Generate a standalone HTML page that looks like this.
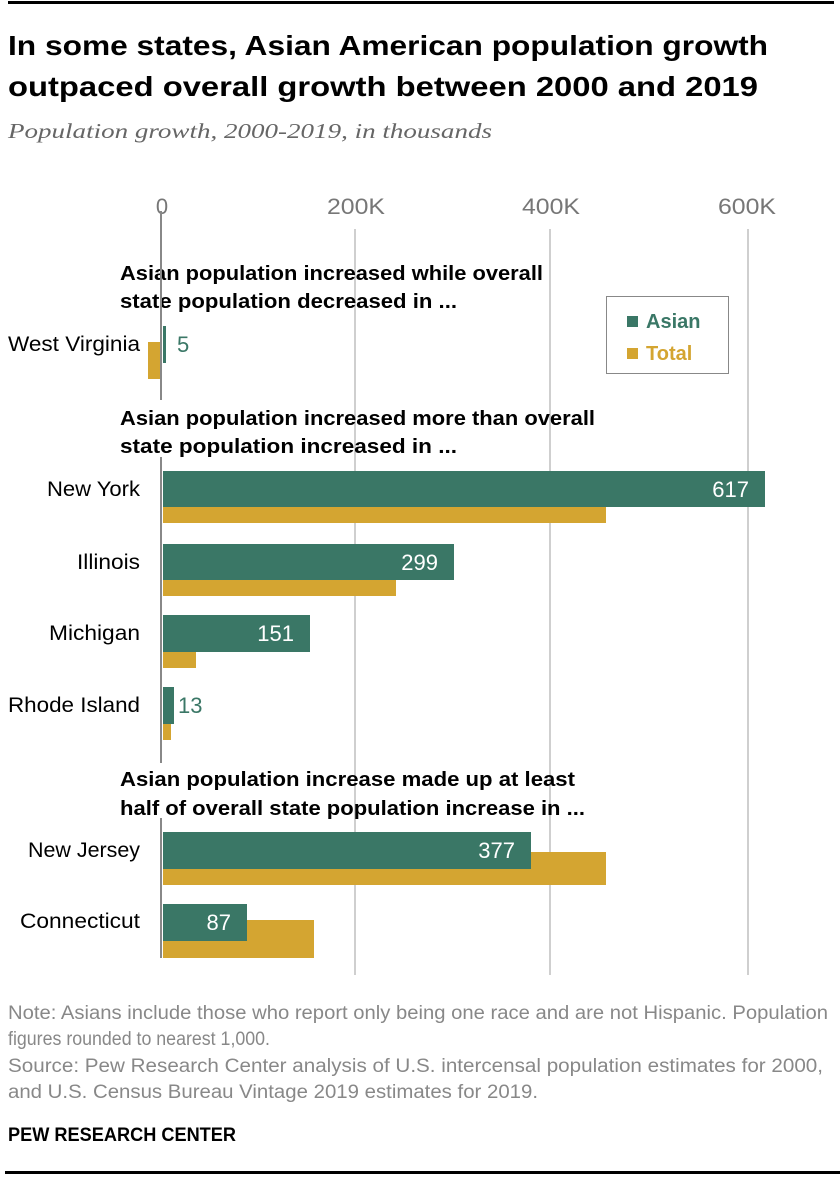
<!DOCTYPE html>
<html><head><meta charset="utf-8"><style>
html,body{margin:0;padding:0;background:#fff;}
svg{display:block;}
text{font-family:"Liberation Sans",Arial,sans-serif;}
</style></head><body>
<svg width="840" height="1178" viewBox="0 0 840 1178" xmlns="http://www.w3.org/2000/svg">
<rect x="0" y="0" width="840" height="1178" fill="#fff"/>
<rect x="8" y="1" width="826" height="3" fill="#000"/>
<text x="8" y="55" font-size="28" font-weight="bold" fill="#000" textLength="760" lengthAdjust="spacingAndGlyphs">In some states, Asian American population growth</text>
<text x="8" y="96" font-size="28" font-weight="bold" fill="#000" textLength="750" lengthAdjust="spacingAndGlyphs">outpaced overall growth between 2000 and 2019</text>
<text x="8" y="138" font-size="21" font-style="italic" fill="#666" style="font-family:'Liberation Serif',serif" textLength="484" lengthAdjust="spacingAndGlyphs">Population growth, 2000-2019, in thousands</text>
<g font-size="22" fill="#777" text-anchor="middle">
<text x="162" y="214">0</text>
<text x="356" y="214" textLength="58" lengthAdjust="spacingAndGlyphs">200K</text>
<text x="551" y="214" textLength="58" lengthAdjust="spacingAndGlyphs">400K</text>
<text x="747" y="214" textLength="58" lengthAdjust="spacingAndGlyphs">600K</text>
</g>
<g fill="#cfcfcf">
<rect x="354" y="229" width="2" height="746"/>
<rect x="549" y="229" width="2" height="746"/>
<rect x="747" y="229" width="2" height="746"/>
</g>
<rect x="606.5" y="296.5" width="122" height="77" fill="#fff" stroke="#888" stroke-width="1"/>
<rect x="627" y="316" width="11" height="11" fill="#3a7766"/>
<text x="646" y="328" font-size="20" font-weight="bold" fill="#3a7766">Asian</text>
<rect x="627" y="348" width="11" height="11" fill="#d4a531"/>
<text x="646" y="360" font-size="20" font-weight="bold" fill="#d4a531">Total</text>
<g font-size="20" font-weight="bold" fill="#000">
<text x="120" y="280" textLength="423" lengthAdjust="spacingAndGlyphs">Asian population increased while overall</text>
<text x="120" y="308" textLength="337" lengthAdjust="spacingAndGlyphs">state population decreased in ...</text>
<text x="120" y="425" textLength="475" lengthAdjust="spacingAndGlyphs">Asian population increased more than overall</text>
<text x="120" y="453" textLength="337" lengthAdjust="spacingAndGlyphs">state population increased in ...</text>
<text x="120" y="786" textLength="455" lengthAdjust="spacingAndGlyphs">Asian population increase made up at least</text>
<text x="120" y="815" textLength="465" lengthAdjust="spacingAndGlyphs">half of overall state population increase in ...</text>
</g>
<g font-size="21" fill="#000" text-anchor="end">
<text x="140" y="351" textLength="132" lengthAdjust="spacingAndGlyphs">West Virginia</text>
<text x="140" y="496" textLength="93" lengthAdjust="spacingAndGlyphs">New York</text>
<text x="140" y="569" textLength="63" lengthAdjust="spacingAndGlyphs">Illinois</text>
<text x="140" y="640" textLength="91" lengthAdjust="spacingAndGlyphs">Michigan</text>
<text x="140" y="712" textLength="132" lengthAdjust="spacingAndGlyphs">Rhode Island</text>
<text x="140" y="857" textLength="112" lengthAdjust="spacingAndGlyphs">New Jersey</text>
<text x="140" y="928" textLength="120" lengthAdjust="spacingAndGlyphs">Connecticut</text>
</g>
<g fill="#d4a531">
<rect x="148" y="342" width="14" height="37"/>
<rect x="163" y="490" width="443" height="33"/>
<rect x="163" y="563" width="233" height="33"/>
<rect x="163" y="635" width="33" height="33"/>
<rect x="163" y="707" width="8" height="33"/>
<rect x="163" y="852" width="443" height="33"/>
<rect x="163" y="920" width="151" height="38"/>
</g>
<g fill="#3a7766">
<rect x="163" y="326" width="3" height="37"/>
<rect x="163" y="471" width="602" height="36"/>
<rect x="163" y="544" width="291" height="36"/>
<rect x="163" y="615" width="147" height="37"/>
<rect x="163" y="687" width="11" height="37"/>
<rect x="163" y="832" width="368" height="37"/>
<rect x="163" y="904" width="84" height="37"/>
</g>
<g fill="#888">
<rect x="160" y="211" width="2" height="189"/>
<rect x="160" y="457" width="2" height="306"/>
<rect x="160" y="818" width="2" height="140"/>
</g>
<g font-size="22">
<text x="177" y="352" fill="#3a7766">5</text>
<text x="749" y="497" fill="#fff" text-anchor="end">617</text>
<text x="438" y="570" fill="#fff" text-anchor="end">299</text>
<text x="294" y="641" fill="#fff" text-anchor="end">151</text>
<text x="178" y="713" fill="#3a7766">13</text>
<text x="515" y="858" fill="#fff" text-anchor="end">377</text>
<text x="231" y="930" fill="#fff" text-anchor="end">87</text>
</g>
<g font-size="19" fill="#888">
<text x="8" y="1019" textLength="820" lengthAdjust="spacingAndGlyphs">Note: Asians include those who report only being one race and are not Hispanic. Population</text>
<text x="8" y="1045" textLength="262" lengthAdjust="spacingAndGlyphs">figures rounded to nearest 1,000.</text>
<text x="8" y="1072" textLength="815" lengthAdjust="spacingAndGlyphs">Source: Pew Research Center analysis of U.S. intercensal population estimates for 2000,</text>
<text x="8" y="1098" textLength="530" lengthAdjust="spacingAndGlyphs">and U.S. Census Bureau Vintage 2019 estimates for 2019.</text>
</g>
<text x="8" y="1141" font-size="19" font-weight="bold" fill="#000" textLength="228" lengthAdjust="spacingAndGlyphs">PEW RESEARCH CENTER</text>
<rect x="5" y="1171" width="835" height="3" fill="#000"/>
</svg>
</body></html>
